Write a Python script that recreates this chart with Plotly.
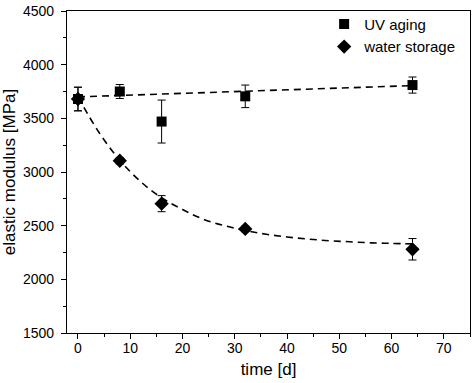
import plotly.graph_objects as go

# measured data
days = [0, 8, 16, 32, 64]
uv_modulus = [3680, 3750, 3470, 3705, 3810]
uv_err = [110, 65, 200, 105, 75]
water_modulus = [3680, 3105, 2705, 2470, 2280]
water_err = [110, 30, 75, 25, 100]

# fitted curves
uv_fit_x = [0, 64]
uv_fit_y = [3700, 3805]
water_fit_x = [0, 4, 8, 12, 16, 20, 24, 28, 32, 36, 40, 44, 48, 52, 56, 60, 64]
water_fit_y = [3700, 3370, 3110, 2910, 2760, 2650, 2560, 2500, 2455, 2420, 2395, 2375, 2360, 2350, 2340, 2335, 2330]

FONT = "Liberation Sans, Arial, sans-serif"

fig = go.Figure()
fig.add_trace(go.Scatter(x=uv_fit_x, y=uv_fit_y, mode="lines",
                         line=dict(color="black", width=1.6, dash="7px,5px"),
                         showlegend=False, hoverinfo="skip"))
fig.add_trace(go.Scatter(x=water_fit_x, y=water_fit_y, mode="lines", line_shape="spline",
                         line=dict(color="black", width=1.6, dash="7px,5px"),
                         showlegend=False, hoverinfo="skip"))
fig.add_trace(go.Scatter(x=days, y=uv_modulus, mode="markers", name="UV aging",
                         marker=dict(symbol="square", size=10, color="black"),
                         error_y=dict(type="data", array=uv_err, color="black",
                                      thickness=1, width=4)))
fig.add_trace(go.Scatter(x=days, y=water_modulus, mode="markers", name="water storage",
                         marker=dict(symbol="diamond", size=11, color="black"),
                         error_y=dict(type="data", array=water_err, color="black",
                                      thickness=1, width=4)))

axis_common = dict(showline=True, linecolor="black", linewidth=1.2, mirror=True,
                   ticks="outside", ticklen=5, tickwidth=1, tickcolor="black",
                   showgrid=False, zeroline=False, ticklabeloverflow="allow",
                   tickfont=dict(family=FONT, size=14, color="black"))

fig.update_xaxes(range=[-2.1, 75], tickvals=[0, 10, 20, 30, 40, 50, 60, 70],
                 minor=dict(ticks="outside", ticklen=3, tickcolor="black", dtick=5, tick0=0),
                 ticklabelstandoff=-3,
                 title=dict(text="time [d]", font=dict(family=FONT, size=17, color="black"), standoff=8),
                 **axis_common)
fig.update_yaxes(range=[1500, 4500], tickvals=[1500, 2000, 2500, 3000, 3500, 4000, 4500],
                 minor=dict(ticks="outside", ticklen=3, tickcolor="black", dtick=250, tick0=1500),
                 ticklabelstandoff=4,
                 title=dict(text="elastic modulus [MPa]", font=dict(family=FONT, size=17, color="black"), standoff=4),
                 **axis_common)

fig.update_layout(
    width=474, height=383,
    margin=dict(l=67, r=3, t=7, b=50),
    plot_bgcolor="white", paper_bgcolor="white",
    font=dict(family=FONT, color="black"),
    legend=dict(x=0.978, y=1.01, xanchor="right", yanchor="top",
                bgcolor="rgba(0,0,0,0)", font=dict(family=FONT, size=15, color="black"),
                itemwidth=30, tracegroupgap=0),
)

fig.write_html("out.html", config={"displayModeBar": False},
               post_script="document.body.style.margin='0';")
